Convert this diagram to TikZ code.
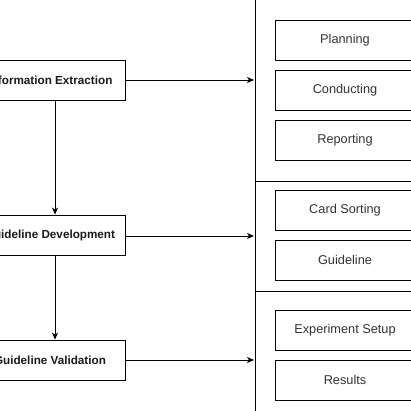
\documentclass[tikz,border=0pt]{standalone}
\usepackage{fontspec}
\setmainfont{Liberation Sans}
\usetikzlibrary{arrows.meta}
\begin{document}
\begin{tikzpicture}[x=1pt,y=-1pt,
  leftbox/.style={draw,line width=0.8pt,minimum width=140pt,minimum height=40pt,inner sep=0pt,font=\fontsize{11.7}{14}\selectfont\bfseries,text=black!90},
  rightbox/.style={draw,line width=0.8pt,minimum width=140pt,minimum height=40pt,inner sep=0pt,font=\fontsize{12.75}{14}\selectfont,text=black!80},
  conn/.style={line width=0.8pt,-{Stealth[length=7pt,width=6pt,inset=2pt]}},
  panel/.style={line width=0.8pt}]
\useasboundingbox (0,0) rectangle (411,411);
\begin{scope}
\clip (0,0) rectangle (411,411);
% left boxes
\node[leftbox] (ie) at (55,80) {\hspace*{-10pt}Information Extraction};
\node[leftbox] (gd) at (55,235) {\hspace*{-10pt}Guideline Development};
\node[leftbox] (gv) at (55,360) {\hspace*{-10pt}Guideline Validation};
% panel
\coordinate (ptop) at (255,0);
\coordinate (pbot) at (255,411);
\draw[panel] (ptop) -- (pbot);
\coordinate (h1a) at (255,181);
\coordinate (h1b) at (411,181);
\coordinate (h2a) at (255,291);
\coordinate (h2b) at (411,291);
\draw[panel] (h1a) -- (h1b);
\draw[panel] (h2a) -- (h2b);
% right boxes
\node[rightbox] (pl) at (345,40) {Planning};
\node[rightbox] (co) at (345,90) {Conducting};
\node[rightbox] (re) at (345,140) {Reporting};
\node[rightbox] (cs) at (345,210) {Card Sorting};
\node[rightbox] (gu) at (345,260) {Guideline};
\node[rightbox] (es) at (345,330) {Experiment Setup};
\node[rightbox] (rs) at (345,380) {Results};
% arrows
\coordinate (t1) at (254,80);
\coordinate (t2) at (254,236);
\coordinate (t3) at (254,360);
\draw[conn] (ie.east) -- (t1);
\draw[conn] (gd.east |- t2) -- (t2);
\draw[conn] (gv.east) -- (t3);
\draw[conn] (ie) -- (gd);
\draw[conn] (gd) -- (gv);
\end{scope}
\end{tikzpicture}
\end{document}
